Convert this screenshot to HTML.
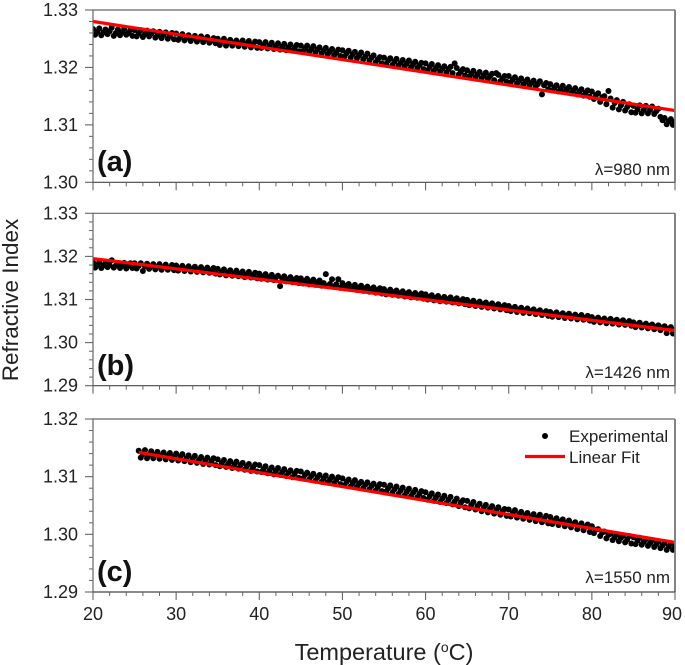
<!DOCTYPE html>
<html>
<head>
<meta charset="utf-8">
<title>Refractive Index vs Temperature</title>
<style>
html,body{margin:0;padding:0;background:#fff;}
svg{display:block;font-family:"Liberation Sans",Arial,sans-serif;}
</style>
</head>
<body>
<svg id="chart" xmlns="http://www.w3.org/2000/svg" width="685" height="665" viewBox="0 0 685 665"></svg>
<script>
const temperatures = [
20,20.25,20.5,20.75,21,21.25,21.5,21.75,22,22.25,22.5,22.75,23,23.25,23.5,23.75,24,24.25,24.5,24.75,
25,25.25,25.5,25.75,26,26.25,26.5,26.75,27,27.25,27.5,27.75,28,28.25,28.5,28.75,29,29.25,29.5,29.75,
30,30.25,30.5,30.75,31,31.25,31.5,31.75,32,32.25,32.5,32.75,33,33.25,33.5,33.75,34,34.25,34.5,34.75,
35,35.25,35.5,35.75,36,36.25,36.5,36.75,37,37.25,37.5,37.75,38,38.25,38.5,38.75,39,39.25,39.5,39.75,
40,40.25,40.5,40.75,41,41.25,41.5,41.75,42,42.25,42.5,42.75,43,43.25,43.5,43.75,44,44.25,44.5,44.75,
45,45.25,45.5,45.75,46,46.25,46.5,46.75,47,47.25,47.5,47.75,48,48.25,48.5,48.75,49,49.25,49.5,49.75,
50,50.25,50.5,50.75,51,51.25,51.5,51.75,52,52.25,52.5,52.75,53,53.25,53.5,53.75,54,54.25,54.5,54.75,
55,55.25,55.5,55.75,56,56.25,56.5,56.75,57,57.25,57.5,57.75,58,58.25,58.5,58.75,59,59.25,59.5,59.75,
60,60.25,60.5,60.75,61,61.25,61.5,61.75,62,62.25,62.5,62.75,63,63.25,63.5,63.75,64,64.25,64.5,64.75,
65,65.25,65.5,65.75,66,66.25,66.5,66.75,67,67.25,67.5,67.75,68,68.25,68.5,68.75,69,69.25,69.5,69.75,
70,70.25,70.5,70.75,71,71.25,71.5,71.75,72,72.25,72.5,72.75,73,73.25,73.5,73.75,74,74.25,74.5,74.75,
75,75.25,75.5,75.75,76,76.25,76.5,76.75,77,77.25,77.5,77.75,78,78.25,78.5,78.75,79,79.25,79.5,79.75,
80,80.25,80.5,80.75,81,81.25,81.5,81.75,82,82.25,82.5,82.75,83,83.25,83.5,83.75,84,84.25,84.5,84.75,
85,85.25,85.5,85.75,86,86.25,86.5,86.75,87,87.25,87.5,87.75,88,88.25,88.5,88.75,89,89.25,89.5,89.75,90];
const temperaturesC = temperatures.slice(22);

const valuesA = [
1.3267,1.3257,1.3262,1.3268,1.3256,1.3261,1.3266,1.3258,1.3263,1.3269,1.3255,1.3260,1.3266,1.3256,1.3261,1.3267,1.3257,1.3260,1.3265,1.3255,
1.3265,1.3254,1.3259,1.3265,1.3253,1.3258,1.3264,1.3254,1.3259,1.3263,1.3252,1.3256,1.3262,1.3251,1.3257,1.3261,1.3250,1.3255,1.3260,1.3249,
1.3259,1.3248,1.3253,1.3258,1.3247,1.3252,1.3256,1.3246,1.3251,1.3255,1.3245,1.3250,1.3254,1.3244,1.3249,1.3253,1.3243,1.3247,1.3251,1.3242,
1.3250,1.3239,1.3245,1.3250,1.3238,1.3244,1.3248,1.3238,1.3243,1.3247,1.3237,1.3242,1.3247,1.3236,1.3241,1.3246,1.3235,1.3240,1.3245,1.3234,
1.3244,1.3234,1.3239,1.3244,1.3233,1.3238,1.3243,1.3232,1.3237,1.3242,1.3231,1.3236,1.3241,1.3230,1.3235,1.3240,1.3229,1.3234,1.3239,1.3228,
1.3238,1.3228,1.3233,1.3238,1.3227,1.3232,1.3237,1.3226,1.3231,1.3235,1.3224,1.3229,1.3234,1.3223,1.3228,1.3232,1.3221,1.3226,1.3231,1.3220,
1.3230,1.3219,1.3225,1.3229,1.3217,1.3223,1.3227,1.3216,1.3221,1.3226,1.3214,1.3219,1.3224,1.3212,1.3217,1.3221,1.3209,1.3214,1.3218,1.3207,
1.3217,1.3206,1.3212,1.3216,1.3204,1.3210,1.3215,1.3203,1.3208,1.3213,1.3202,1.3207,1.3212,1.3200,1.3206,1.3210,1.3199,1.3204,1.3208,1.3197,
1.3207,1.3195,1.3201,1.3206,1.3194,1.3199,1.3204,1.3193,1.3198,1.3202,1.3191,1.3197,1.3201,1.3190,1.3207,1.3199,1.3188,1.3193,1.3197,1.3186,
1.3195,1.3184,1.3189,1.3194,1.3183,1.3188,1.3192,1.3181,1.3186,1.3191,1.3180,1.3185,1.3189,1.3178,1.3190,1.3187,1.3176,1.3181,1.3185,1.3175,
1.3185,1.3174,1.3179,1.3183,1.3172,1.3177,1.3181,1.3170,1.3175,1.3179,1.3169,1.3173,1.3177,1.3167,1.3171,1.3176,1.3153,1.3169,1.3173,1.3162,
1.3171,1.3160,1.3165,1.3169,1.3158,1.3163,1.3168,1.3157,1.3162,1.3166,1.3155,1.3160,1.3164,1.3153,1.3158,1.3162,1.3151,1.3156,1.3160,1.3149,
1.3158,1.3145,1.3152,1.3155,1.3140,1.3148,1.3150,1.3136,1.3159,1.3146,1.3130,1.3138,1.3143,1.3127,1.3134,1.3140,1.3125,1.3131,1.3136,1.3122,
1.3133,1.3121,1.3127,1.3134,1.3120,1.3126,1.3133,1.3120,1.3126,1.3132,1.3119,1.3124,1.3128,1.3114,1.3108,1.3112,1.3101,1.3106,1.3110,1.3100,
1.3105];

const valuesB = [
1.3186,1.3174,1.3180,1.3187,1.3173,1.3179,1.3186,1.3175,1.3180,1.3191,1.3174,1.3179,1.3185,1.3173,1.3178,1.3185,1.3172,1.3178,1.3184,1.3173,
1.3184,1.3172,1.3178,1.3184,1.3166,1.3177,1.3183,1.3171,1.3177,1.3182,1.3170,1.3176,1.3182,1.3169,1.3175,1.3181,1.3169,1.3174,1.3180,1.3168,
1.3179,1.3167,1.3173,1.3178,1.3166,1.3172,1.3177,1.3165,1.3171,1.3176,1.3164,1.3170,1.3175,1.3163,1.3169,1.3174,1.3162,1.3168,1.3173,1.3160,
1.3171,1.3158,1.3164,1.3170,1.3156,1.3163,1.3168,1.3155,1.3161,1.3167,1.3154,1.3160,1.3165,1.3152,1.3158,1.3164,1.3151,1.3157,1.3162,1.3149,
1.3160,1.3148,1.3154,1.3159,1.3146,1.3152,1.3157,1.3145,1.3151,1.3155,1.3131,1.3149,1.3154,1.3142,1.3147,1.3152,1.3140,1.3146,1.3150,1.3138,
1.3149,1.3137,1.3143,1.3148,1.3135,1.3141,1.3146,1.3134,1.3140,1.3144,1.3132,1.3138,1.3159,1.3131,1.3136,1.3147,1.3129,1.3135,1.3147,1.3127,
1.3138,1.3126,1.3132,1.3136,1.3124,1.3130,1.3134,1.3122,1.3128,1.3132,1.3120,1.3126,1.3130,1.3118,1.3124,1.3128,1.3116,1.3122,1.3126,1.3114,
1.3124,1.3112,1.3118,1.3123,1.3111,1.3117,1.3121,1.3109,1.3115,1.3119,1.3107,1.3113,1.3117,1.3105,1.3111,1.3115,1.3104,1.3110,1.3114,1.3102,
1.3112,1.3100,1.3106,1.3110,1.3098,1.3104,1.3108,1.3096,1.3102,1.3106,1.3095,1.3101,1.3105,1.3093,1.3099,1.3103,1.3091,1.3097,1.3101,1.3089,
1.3099,1.3087,1.3093,1.3097,1.3085,1.3091,1.3095,1.3083,1.3089,1.3093,1.3081,1.3087,1.3091,1.3079,1.3085,1.3089,1.3077,1.3083,1.3087,1.3075,
1.3085,1.3073,1.3079,1.3083,1.3071,1.3077,1.3081,1.3069,1.3075,1.3079,1.3068,1.3073,1.3077,1.3066,1.3071,1.3075,1.3064,1.3069,1.3073,1.3062,
1.3071,1.3060,1.3066,1.3070,1.3059,1.3064,1.3068,1.3057,1.3063,1.3067,1.3056,1.3061,1.3065,1.3054,1.3060,1.3064,1.3053,1.3058,1.3062,1.3051,
1.3059,1.3048,1.3054,1.3058,1.3047,1.3052,1.3056,1.3045,1.3051,1.3055,1.3044,1.3050,1.3053,1.3042,1.3048,1.3052,1.3041,1.3046,1.3050,1.3039,
1.3047,1.3036,1.3042,1.3046,1.3035,1.3040,1.3044,1.3033,1.3039,1.3042,1.3031,1.3037,1.3040,1.3029,1.3035,1.3038,1.3022,1.3032,1.3036,1.3021,
1.3030];

const valuesC = [
1.3145,1.3133,1.3139,1.3146,1.3132,1.3138,1.3144,1.3132,1.3138,1.3143,1.3131,1.3137,1.3142,1.3130,1.3136,1.3141,1.3129,1.3135,
1.3140,1.3128,1.3134,1.3139,1.3127,1.3132,1.3137,1.3125,1.3131,1.3136,1.3124,1.3129,1.3134,1.3122,1.3128,1.3133,1.3121,1.3127,1.3132,1.3120,
1.3130,1.3118,1.3124,1.3129,1.3117,1.3122,1.3127,1.3115,1.3121,1.3126,1.3114,1.3120,1.3124,1.3112,1.3118,1.3122,1.3110,1.3116,1.3121,1.3109,
1.3120,1.3108,1.3113,1.3118,1.3106,1.3111,1.3116,1.3104,1.3110,1.3115,1.3103,1.3108,1.3113,1.3101,1.3107,1.3111,1.3099,1.3105,1.3110,1.3098,
1.3109,1.3097,1.3103,1.3107,1.3095,1.3101,1.3105,1.3093,1.3099,1.3103,1.3091,1.3097,1.3102,1.3090,1.3095,1.3100,1.3088,1.3094,1.3099,1.3087,
1.3097,1.3085,1.3091,1.3095,1.3083,1.3089,1.3094,1.3082,1.3088,1.3091,1.3080,1.3086,1.3090,1.3078,1.3084,1.3088,1.3076,1.3082,1.3087,1.3075,
1.3086,1.3074,1.3080,1.3085,1.3072,1.3078,1.3083,1.3070,1.3076,1.3081,1.3068,1.3074,1.3079,1.3066,1.3072,1.3077,1.3064,1.3070,1.3075,1.3063,
1.3073,1.3060,1.3066,1.3071,1.3058,1.3064,1.3069,1.3056,1.3062,1.3067,1.3054,1.3060,1.3065,1.3052,1.3057,1.3062,1.3049,1.3055,1.3059,1.3047,
1.3058,1.3045,1.3051,1.3056,1.3043,1.3049,1.3053,1.3040,1.3046,1.3051,1.3038,1.3044,1.3049,1.3036,1.3042,1.3047,1.3034,1.3040,1.3044,1.3032,
1.3043,1.3031,1.3037,1.3042,1.3029,1.3035,1.3039,1.3027,1.3033,1.3037,1.3025,1.3031,1.3035,1.3023,1.3029,1.3034,1.3021,1.3027,1.3032,1.3019,
1.3030,1.3018,1.3024,1.3028,1.3016,1.3022,1.3026,1.3014,1.3020,1.3024,1.3012,1.3018,1.3021,1.3009,1.3015,1.3019,1.3007,1.3013,1.3017,1.3004,
1.3014,1.3002,1.3008,1.3009,1.2997,1.3003,1.3005,1.2993,1.2999,1.3001,1.2990,1.2995,1.3000,1.2988,1.2994,1.2998,1.2986,1.2991,1.2997,1.2984,
1.2995,1.2983,1.2989,1.2994,1.2982,1.2987,1.2992,1.2980,1.2985,1.2990,1.2978,1.2983,1.2988,1.2976,1.2981,1.2985,1.2973,1.2979,1.2984,1.2973,
1.2980];

const fitTempsAB = [20, 90];
const fitTempsC = [25.5, 90];
const fitA = [1.3280, 1.3125];
const fitB = [1.3195, 1.3028];
const fitC = [1.3142, 1.2986];

const xTickValues = [20,30,40,50,60,70,80,90];
const yTicksA = ["1.30","1.31","1.32","1.33"];
const yTicksB = ["1.29","1.30","1.31","1.32","1.33"];
const yTicksC = ["1.29","1.30","1.31","1.32"];

const NS = "http://www.w3.org/2000/svg";
const svg = document.getElementById("chart");
const axisColor = "#666";
const textColor = "#222";
const plotLeft = 93, plotRight = 675;
const xDomain = [20, 90];

function xScale(t){ return plotLeft + (t - xDomain[0]) / (xDomain[1] - xDomain[0]) * (plotRight - plotLeft); }

function mk(tag, attrs, parent){
  const el = document.createElementNS(NS, tag);
  for (const k in attrs) el.setAttribute(k, attrs[k]);
  (parent || svg).appendChild(el);
  return el;
}

function drawPanel(p){
  const yScale = v => p.bottom - (v - p.yMin) / (p.yMax - p.yMin) * (p.bottom - p.top);
  const g = mk("g", {});
  
  

  const clip = mk("clipPath", {id: "clip-" + p.id}, g);
  mk("rect", {x: plotLeft, y: p.top, width: plotRight - plotLeft, height: p.bottom - p.top}, clip);

  const pts = mk("g", {"clip-path": "url(#clip-" + p.id + ")"}, g);
  
  
  p.values.forEach((v, i) => {
    const c = mk("circle", {cx: xScale(p.temps[i]).toFixed(2), cy: yScale(v).toFixed(2), r: 3, fill: "#000"}, pts);
    
    
  });

  const fit = mk("line", {
    x1: xScale(p.fitT[0]), y1: yScale(p.fit[0]),
    x2: xScale(p.fitT[1]), y2: yScale(p.fit[1]),
    stroke: "#ff0000", "stroke-width": 3.2, "clip-path": "url(#clip-" + p.id + ")"
  }, g);
  
  

  const frame = mk("path", {
    d: `M${plotLeft} ${p.bottom}V${p.top}H${plotRight}`,
    fill: "none", stroke: axisColor, "stroke-width": 1.2
  }, g);
  
  
  const rightEdge = mk("line", {x1: plotRight, x2: plotRight, y1: p.top, y2: p.bottom, stroke: "#777", "stroke-width": 1.8}, g);
  
  
  const xAxis = mk("line", {x1: plotLeft, x2: plotRight, y1: p.bottom, y2: p.bottom, stroke: "#444", "stroke-width": 1.2}, g);
  
  

  // x ticks: 5 subdivisions per major interval
  xTickValues.forEach((t, i) => {
    const x = xScale(t);
    mk("line", {x1: x, x2: x, y1: p.bottom, y2: p.bottom + 8, stroke: axisColor, "stroke-width": 1.1}, g);
    if (i < xTickValues.length - 1) {
      for (let m = 1; m < 5; m++) {
        const mx = xScale(t + m * 2);
        mk("line", {x1: mx, x2: mx, y1: p.bottom, y2: p.bottom + 4, stroke: axisColor, "stroke-width": 1}, g);
      }
    }
    if (p.showXLabels) {
      const lbl = mk("text", {x: Math.min(x, 672), y: 620, "text-anchor": "middle", "font-size": 18, fill: textColor}, g);
      lbl.textContent = t;
      
      
    }
  });

  // y ticks
  p.yTicks.forEach((label, i) => {
    const v = parseFloat(label);
    const y = yScale(v);
    mk("line", {x1: plotLeft - 8, x2: plotLeft, y1: y, y2: y, stroke: axisColor, "stroke-width": 1.1}, g);
    if (i < p.yTicks.length - 1) {
      for (let m = 1; m < 5; m++) {
        const my = yScale(v + m * 0.002);
        mk("line", {x1: plotLeft - 4, x2: plotLeft, y1: my, y2: my, stroke: axisColor, "stroke-width": 1}, g);
      }
    }
    const lbl = mk("text", {x: 78, y: y + 6, "text-anchor": "end", "font-size": 18, fill: textColor}, g);
    lbl.textContent = label;
    
    
  });

  const tag = mk("text", {x: 97, y: p.tagY, "font-size": 29, "font-weight": "bold", fill: "#111"}, g);
  tag.textContent = "(" + p.id + ")";
  
  

  const wl = mk("text", {x: 670, y: p.wlY, "text-anchor": "end", "font-size": 17, fill: textColor}, g);
  wl.textContent = p.wavelength;
  
  
}

drawPanel({id:"a", top:10, bottom:182.3, yMin:1.30, yMax:1.33, yTicks:yTicksA, temps:temperatures, values:valuesA, fit:fitA, fitT:fitTempsAB, tagY:171, wlY:175, wavelength:"λ=980 nm", showXLabels:false});
drawPanel({id:"b", top:213.3, bottom:385.7, yMin:1.29, yMax:1.33, yTicks:yTicksB, temps:temperatures, values:valuesB, fit:fitB, fitT:fitTempsAB, tagY:375, wlY:378, wavelength:"λ=1426 nm", showXLabels:false});
drawPanel({id:"c", top:419, bottom:592, yMin:1.29, yMax:1.32, yTicks:yTicksC, temps:temperaturesC, values:valuesC, fit:fitC, fitT:fitTempsC, tagY:581, wlY:583, wavelength:"λ=1550 nm", showXLabels:true});

// legend
const legend = mk("g", {});


const legendDot = mk("circle", {cx: 545, cy: 436, r: 3, fill: "#000"}, legend);


const legendText1 = mk("text", {x: 569, y: 442, "font-size": 17, fill: textColor}, legend);
legendText1.textContent = "Experimental";


const legendLine = mk("line", {x1: 525, x2: 565, y1: 456.5, y2: 456.5, stroke: "#ff0000", "stroke-width": 3.2}, legend);


const legendText2 = mk("text", {x: 569, y: 463, "font-size": 17, fill: textColor}, legend);
legendText2.textContent = "Linear Fit";



// axis titles
const yTitle = mk("text", {transform: "translate(18,300) rotate(-90)", "text-anchor": "middle", "font-size": 22.5, fill: textColor});
yTitle.textContent = "Refractive Index";



const xTitle = mk("text", {x: 384, y: 660, "text-anchor": "middle", "font-size": 23.5, fill: textColor});


const t1 = mk("tspan", {}, xTitle);
t1.textContent = "Temperature (";
const t2 = mk("tspan", {dy: -8, "font-size": 14}, xTitle);
t2.textContent = "o";
const t3 = mk("tspan", {dy: 8}, xTitle);
t3.textContent = "C)";
</script>
</body>
</html>
